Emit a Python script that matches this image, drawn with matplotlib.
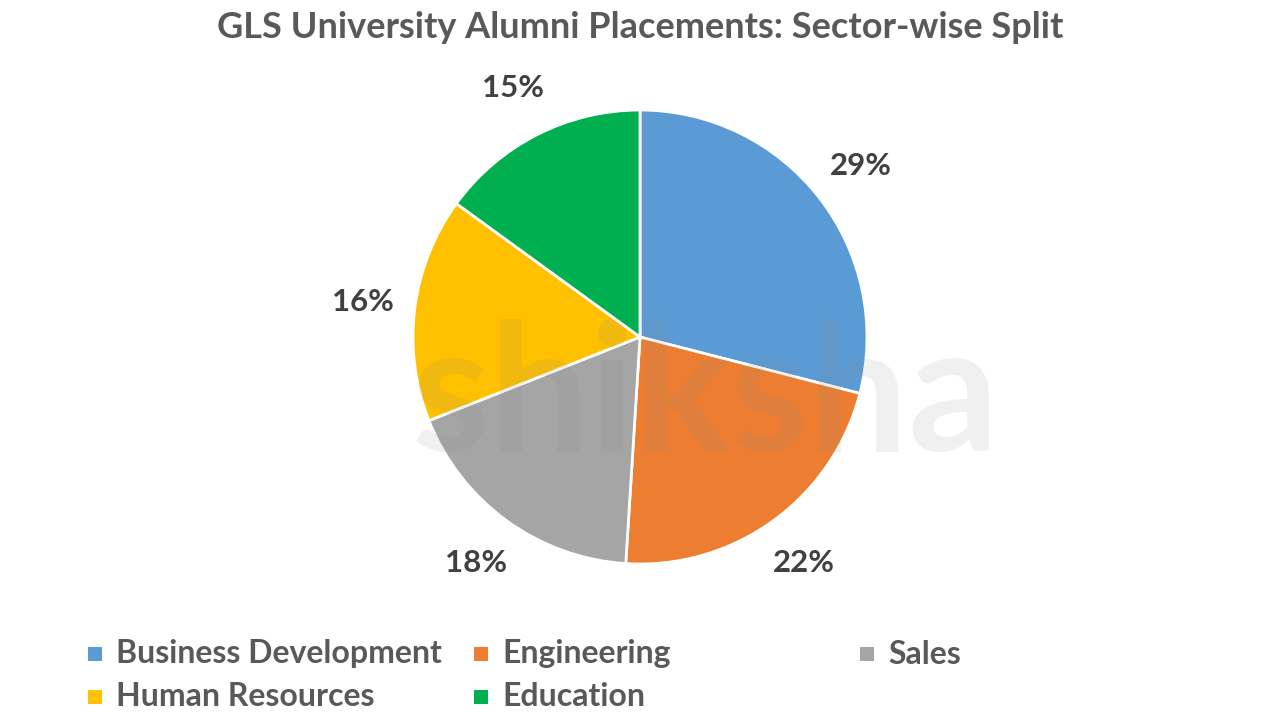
import matplotlib.pyplot as plt
from matplotlib.patches import Rectangle

plt.rcParams["font.family"] = ['Lato', 'DejaVu Sans']
plt.rcParams["font.weight"] = 'bold'

# sector split of alumni placements (percent)
sectors = ['Business Development', 'Engineering', 'Sales', 'Human Resources', 'Education']
shares = [29, 22, 18, 16, 15]
colors = ['#5B9BD5', '#ED7D31', '#A5A5A5', '#FFC000', '#00B050']

fig = plt.figure(figsize=(12.8, 7.2), dpi=100)

# pie axes: centre ~ (640, 337) px, radius ~ 227 px
r_w = 227 / 1280
r_h = 227 / 720
cx, cy = 640 / 1280, 1 - 337 / 720
ax = fig.add_axes([cx - r_w, cy - r_h, 2 * r_w, 2 * r_h])
wedges, texts, autotexts = ax.pie(
    shares, colors=colors, startangle=90, counterclock=False,
    autopct='%d%%', pctdistance=1.23,
    wedgeprops=dict(edgecolor='white', linewidth=2),
    textprops=dict(color='#404040', fontsize=22.5, fontweight='bold'))
ax.set_xlim(-1, 1)
ax.set_ylim(-1, 1)
for t in autotexts:
    t.set_clip_on(False)

fig.text(0.5, 1 - 28 / 720, 'GLS University Alumni Placements: Sector-wise Split',
         ha='center', va='center', fontsize=26, fontweight='bold', color='#595959')

# faint watermark
fig.text(705 / 1280, 1 - 400 / 720, 'shiksha', ha='center', va='center',
         fontsize=128, fontweight='bold', color='#888888', alpha=0.12)

# legend laid out in 3 equal columns
col_x = [88, 474, 860]
row_y = [654, 697]
for i, (name, c) in enumerate(zip(sectors, colors)):
    x = col_x[i % 3]
    y = row_y[i // 3]
    fig.patches.append(Rectangle((x / 1280, 1 - (y + 7) / 720), 14 / 1280, 14 / 720,
                                 transform=fig.transFigure, facecolor=c, edgecolor='none'))
    fig.text((x + 28) / 1280, 1 - y / 720, name, ha='left', va='center',
             fontsize=23, fontweight='bold', color='#595959')

plt.savefig('out.png', dpi=100)
